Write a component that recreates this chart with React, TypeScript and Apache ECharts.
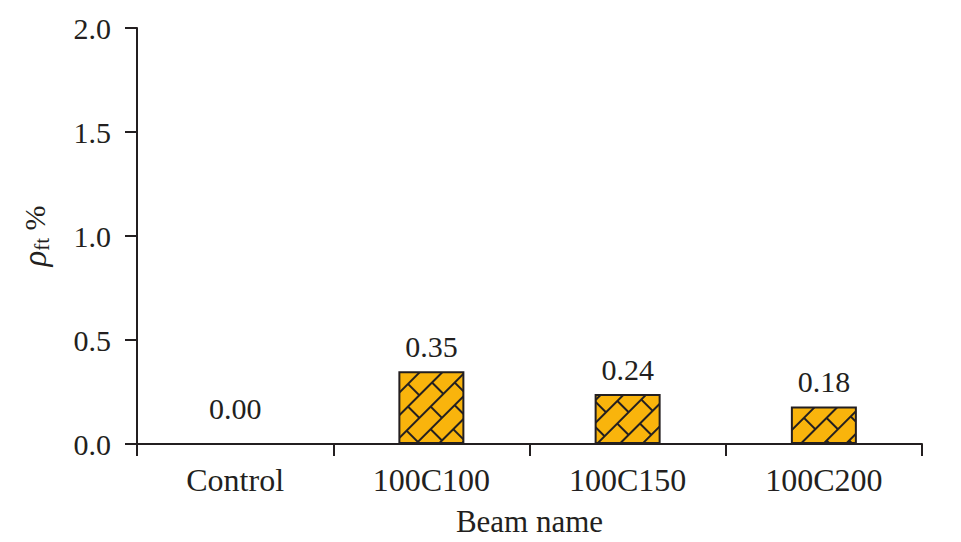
import React, { useEffect, useRef } from "react";
import * as echarts from "echarts";

const categories = ["Control", "100C100", "100C150", "100C200"];
const ratioValues = [0.0, 0.35, 0.24, 0.18];
const yTicks = [0, 0.5, 1.0, 1.5, 2.0];

const FONT = "'Liberation Serif', 'DejaVu Serif', serif";
const INK = "#231f20";
const FILL = "#F9B40C";

// Brick tile (unrotated): two staggered rows of bricks, rotated 45° by the pattern transform.
function makeBrickTile(): HTMLCanvasElement {
  const L = 34;
  const h = 16;
  const c = document.createElement("canvas");
  c.width = L;
  c.height = 2 * h;
  const ctx = c.getContext("2d")!;
  ctx.fillStyle = FILL;
  ctx.fillRect(0, 0, L, 2 * h);
  ctx.strokeStyle = INK;
  ctx.lineWidth = 2;
  ctx.beginPath();
  ctx.moveTo(0, 0);
  ctx.lineTo(L, 0);
  ctx.moveTo(0, h);
  ctx.lineTo(L, h);
  ctx.moveTo(0, 2 * h);
  ctx.lineTo(L, 2 * h);
  ctx.moveTo(1, 0);
  ctx.lineTo(1, h);
  ctx.moveTo(L / 2, h);
  ctx.lineTo(L / 2, 2 * h);
  ctx.stroke();
  return c;
}

export default function App() {
  const ref = useRef<HTMLDivElement>(null);

  useEffect(() => {
    if (!ref.current) return;
    const chart = echarts.init(ref.current, undefined, { renderer: "svg" });
    const tile = makeBrickTile();
    const pattern: any = {
      image: tile,
      repeat: "repeat",
      imageWidth: tile.width,
      imageHeight: tile.height,
      rotation: -Math.PI / 4,
    };

    chart.setOption({
      animation: false,
      backgroundColor: "#ffffff",
      grid: { left: 137, right: 39, top: 28, bottom: 95, containLabel: false },
      xAxis: {
        type: "category",
        data: categories,
        name: "Beam name",
        nameLocation: "middle",
        nameGap: 62,
        nameTextStyle: { fontFamily: FONT, fontSize: 31, color: INK },
        axisLine: { lineStyle: { color: INK, width: 2 } },
        axisTick: { show: true, length: 12, alignWithLabel: false, lineStyle: { color: INK, width: 2 } },
        axisLabel: { fontFamily: FONT, fontSize: 32, color: INK, margin: 20 },
        splitLine: { show: false },
      },
      yAxis: {
        type: "value",
        min: yTicks[0],
        max: yTicks[yTicks.length - 1],
        interval: 0.5,
        name: "{rho|ρ}{sub|ft} %",
        nameLocation: "middle",
        nameGap: 85,
        nameRotate: 90,
        nameTextStyle: {
          fontFamily: FONT,
          fontSize: 30,
          color: INK,
          rich: {
            rho: { fontFamily: FONT, fontStyle: "italic", fontSize: 33, color: INK },
            sub: { fontFamily: FONT, fontSize: 21, color: INK, verticalAlign: "bottom", padding: [14, 0, 0, 0] },
          },
        },
        axisLine: { show: true, lineStyle: { color: INK, width: 2 } },
        axisTick: { show: true, inside: false, length: 12, lineStyle: { color: INK, width: 2 } },
        axisLabel: {
          fontFamily: FONT,
          fontSize: 30,
          color: INK,
          margin: 26,
          formatter: (v: number) => v.toFixed(1),
        },
        splitLine: { show: false },
      },
      series: [
        {
          type: "bar",
          barWidth: 66,
          data: ratioValues.map((v) => ({
            value: v,
            label: v === 0 ? { distance: 20 } : undefined,
          })),
          itemStyle: { color: pattern, borderColor: INK, borderWidth: 2 },
          label: {
            show: true,
            position: "top",
            distance: 10,
            fontFamily: FONT,
            fontSize: 30,
            color: INK,
            formatter: (p: any) => Number(p.value).toFixed(2),
          },
        },
      ],
    });

    return () => chart.dispose();
  }, []);

  return <div ref={ref} style={{ width: 961, height: 542, margin: -8 }} />;
}
